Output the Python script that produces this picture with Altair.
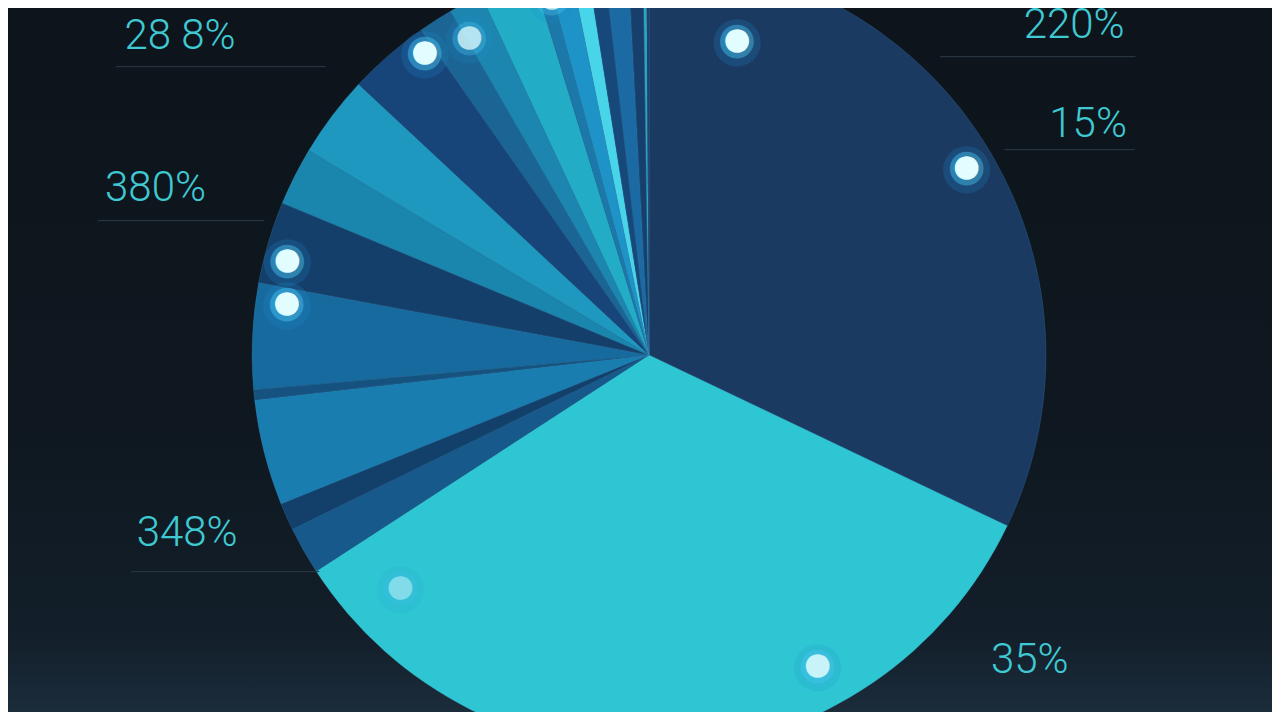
import altair as alt
import pandas as pd

# ---------------- data ----------------
segments = [f"Segment {i}" for i in range(1, 23)]
shares = [32.08, 33.75, 1.94, 1.11, 4.31, 0.42, 4.31, 3.33, 2.36, 3.33, 3.33,
          1.39, 1.39, 2.22, 0.56, 0.97, 0.69, 0.69, 0.97, 0.61, 0.14, 0.10]
palette = ["#1b3a62", "#2fc6d3", "#16598a", "#133f6b", "#1a7db0", "#15527f",
           "#176a9e", "#153f6b", "#1a86ae", "#1e98bf", "#17457a", "#1b6595",
           "#1c86b0", "#22acc6", "#1b78a8", "#1d93c8", "#48d5ea", "#17487a",
           "#1c6aa3", "#173f6c", "#2aa6c0", "#1b3a62"]

label_text = ["28 8%", "380%", "348%", "220%", "15%", "35%"]
label_angle = [304.2, 288.7, 248.9, 52.2, 62.3, 128.7]
label_radius = [567, 521, 495, 538, 496, 488]

underline_angle = [303.9, 286.0, 242.9, 52.5, 64.0]
underline_radius = [516, 487, 476, 490, 468]
underline_chars = [29, 23, 26, 27, 18]

dot_angle = [15.6, 59.4, 151.5, 227.0, 284.7, 278.2, 323.5, 330.5, 344.8]
dot_radius = [327, 369, 353, 340, 374, 366, 377, 365, 371]
dot_glow = [1.0, 1.0, 0.85, 0.45, 1.0, 1.0, 1.0, 0.75, 0.8]

PIE_R = 397

slices_df = pd.DataFrame({"segment": segments, "share": shares,
                          "idx": list(range(len(segments))), "color": palette})
labels_df = pd.DataFrame({"label": label_text, "ang": label_angle, "r": label_radius})
under_df = pd.DataFrame({"line": ["\u2500" * n for n in underline_chars],
                         "ang": underline_angle, "r": underline_radius})
dots_df = pd.DataFrame({"ang": dot_angle, "r": dot_radius, "glow": dot_glow})

W, H = 1246, 694

theta_deg = alt.Scale(domain=[0, 360], range=[0, 6.283185307179586])
rad_px = alt.Scale(type="linear", domain=[0, 400], range=[0, 400], zero=True)

bg = alt.Chart(pd.DataFrame({"a": [0]})).mark_rect(
    color=alt.Gradient(
        gradient="linear",
        stops=[alt.GradientStop(color="#0d141b", offset=0),
               alt.GradientStop(color="#0f1820", offset=0.6),
               alt.GradientStop(color="#121e29", offset=0.88),
               alt.GradientStop(color="#1b2c3b", offset=1)],
        x1=0, x2=0, y1=0, y2=1)
).encode(x=alt.value(-18), x2=alt.value(W), y=alt.value(0), y2=alt.value(H + 10))

arcs = alt.Chart(slices_df).mark_arc(
    radius=PIE_R, stroke="#3f86b8", strokeWidth=0.7, strokeOpacity=0.35
).encode(
    theta=alt.Theta("share:Q", stack=True),
    order=alt.Order("idx:Q", sort="ascending"),
    color=alt.Color("color:N", scale=None),
)

def dot_layer(size, color, base_op):
    return alt.Chart(dots_df).mark_text(
        text="\u25cf", font="DejaVu Sans", fontSize=size, color=color,
        baseline="middle", align="center"
    ).encode(
        theta=alt.Theta("ang:Q", scale=theta_deg),
        radius=alt.Radius("r:Q", scale=rad_px),
        opacity=alt.Opacity("glow:Q", scale=alt.Scale(domain=[0, 1], range=[0, base_op]),
                            legend=None),
    )

glow1 = dot_layer(62, "#1e8fd0", 0.20)
glow2 = dot_layer(44, "#49c4ef", 0.45)
core = dot_layer(31, "#e2fdff", 1.0)

underlines = alt.Chart(under_df).mark_text(
    font="DejaVu Sans Mono", fontSize=12, color="#2a3944",
    baseline="middle", align="center"
).encode(
    text="line:N",
    theta=alt.Theta("ang:Q", scale=theta_deg),
    radius=alt.Radius("r:Q", scale=rad_px),
)

labels = alt.Chart(labels_df).mark_text(
    font="Roboto", fontWeight=300, fontSize=42, color="#3fc9d3",
    baseline="middle", align="center"
).encode(
    text="label:N",
    theta=alt.Theta("ang:Q", scale=theta_deg),
    radius=alt.Radius("r:Q", scale=rad_px),
)

chart = alt.layer(bg, arcs, glow1, glow2, core, underlines, labels).resolve_scale(
    theta="independent", radius="independent", opacity="independent"
).properties(
    width=W, height=H,
    autosize=alt.AutoSizeParams(type="none"),
    padding={"left": 18, "top": 0, "right": 0, "bottom": 10},
    background="#0d141b",
).configure_view(stroke=None)

chart.save("out.html", embed_options={"renderer": "svg", "actions": False})
